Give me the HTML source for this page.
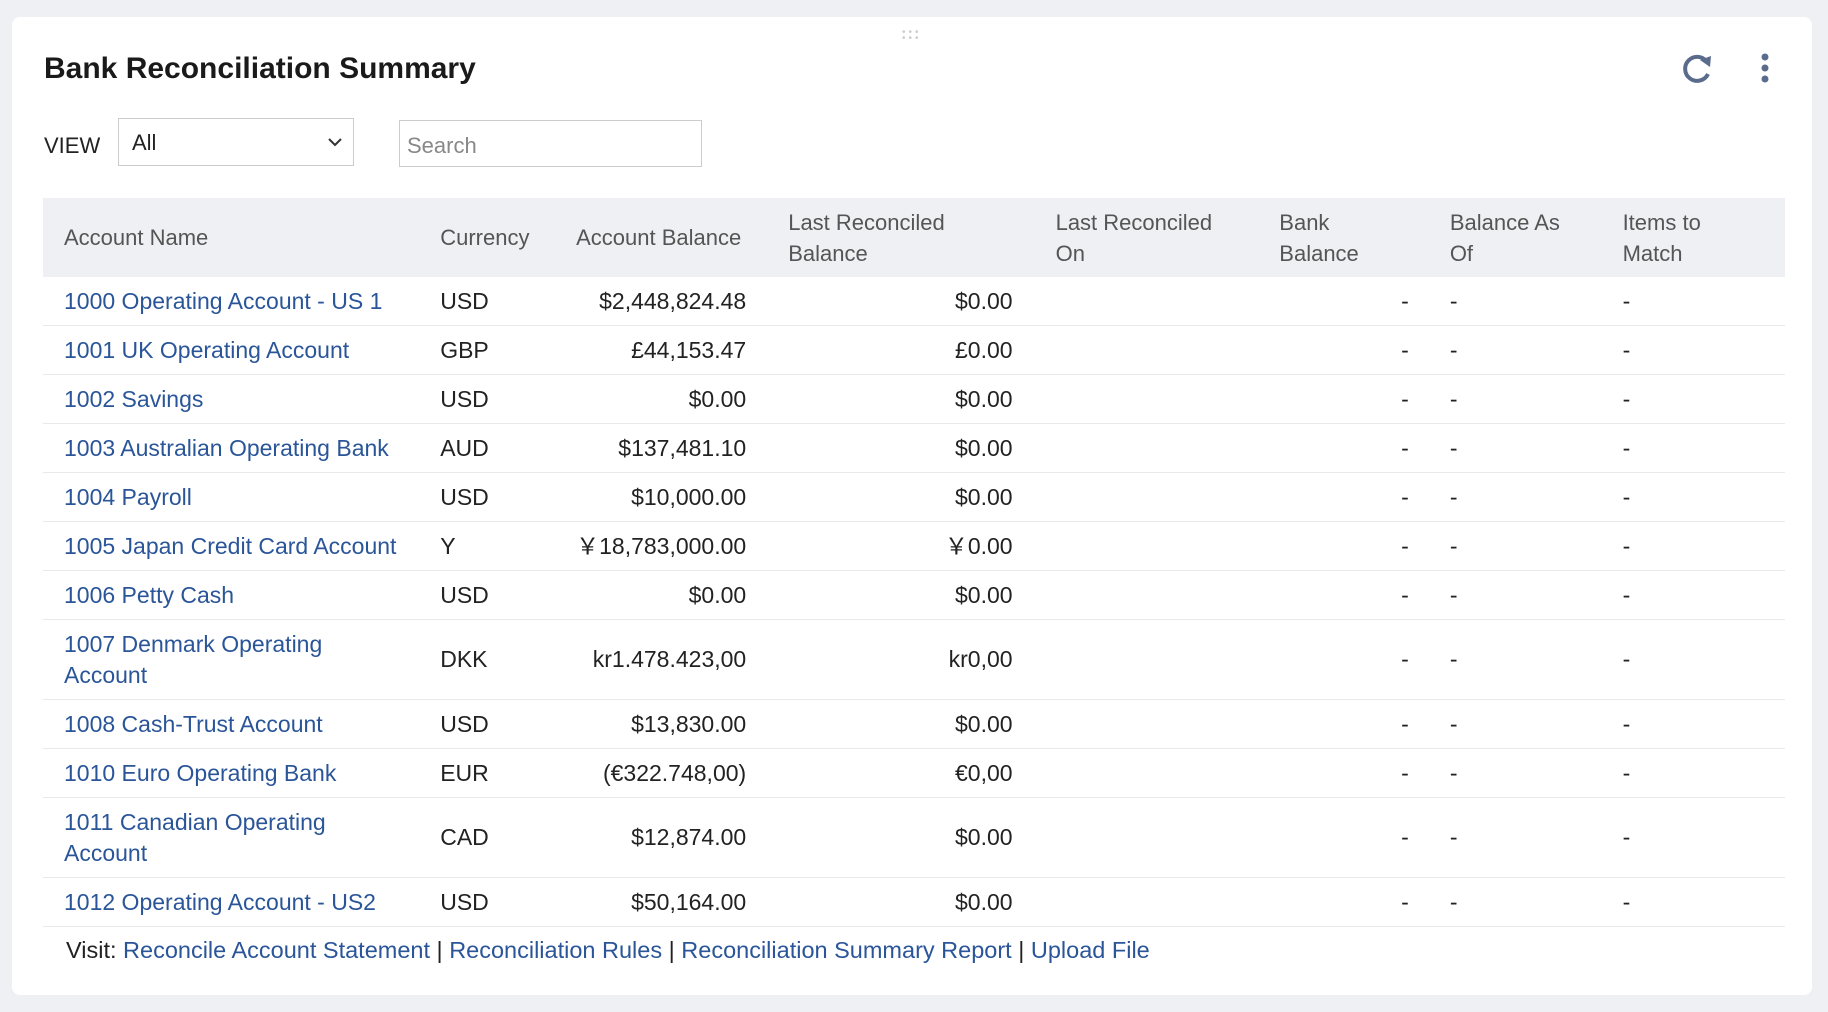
<!DOCTYPE html>
<html><head><meta charset="utf-8"><style>
body{margin:0;width:1828px;height:1012px;background:#eef0f4;font-family:"Liberation Sans",sans-serif;overflow:hidden;position:relative}
.card{position:absolute;left:12px;top:17px;width:1800px;height:978px;background:#fff;border-radius:8px}
.t{position:absolute;left:44px;top:52px;font-size:30px;font-weight:bold;color:#1a1a1a;letter-spacing:0px}
.view{position:absolute;left:44px;top:133px;font-size:22px;color:#222}
.sel{position:absolute;left:118px;top:118px;width:236px;height:48px;border:1px solid #ccc;box-sizing:border-box;font-size:22px;padding:11px 13px;color:#222}
.srch{position:absolute;left:399px;top:120px;width:303px;height:47px;border:1px solid #ccc;box-sizing:border-box;font-size:22px;padding:12px 7px;color:#888}
table{position:absolute;left:43px;top:198px;width:1742px;border-collapse:collapse;font-size:23px;color:#222}
th{background:#eff0f4;font-weight:normal;color:#555;text-align:left;height:79px;line-height:31px;padding:0 18px;vertical-align:middle;font-size:22px;white-space:nowrap}
td{border-bottom:1px solid #e8e9ec;height:48px;line-height:31px;padding:0 18px}
td.tall{height:79px}
a{color:#2a5598;text-decoration:none}
.r{text-align:right}
.foot{position:absolute;left:66px;top:937px;font-size:23.5px;color:#222}
</style></head><body>
<div class="card"></div>
<div style="position:absolute;left:902px;top:30px;color:#ccc;font-size:10px;letter-spacing:3px;line-height:6px">•••<br>•••</div>
<div class="t">Bank Reconciliation Summary</div>
<svg style="position:absolute;left:1680px;top:52px" width="34" height="34" viewBox="0 0 34 34"><path d="M27 10 A12 12 0 1 0 28 22" fill="none" stroke="#5a6b8c" stroke-width="4"/><polygon points="20,8 31,4 30,15" fill="#5a6b8c"/></svg>
<svg style="position:absolute;left:1757px;top:52px" width="16" height="34"><circle cx="8" cy="5" r="3.5" fill="#5a6b8c"/><circle cx="8" cy="16" r="3.5" fill="#5a6b8c"/><circle cx="8" cy="27" r="3.5" fill="#5a6b8c"/></svg>
<div class="view">VIEW</div>
<div class="sel">All<svg style="position:absolute;right:10px;top:18px" width="16" height="10"><path d="M2 2 L8 8 L14 2" fill="none" stroke="#333" stroke-width="2"/></svg></div>
<div class="srch">Search</div>
<table>
<colgroup><col style="width:381px"><col style="width:136px"><col style="width:202px"><col style="width:267px"><col style="width:231px"><col style="width:166px"><col style="width:178px"><col style="width:181px"></colgroup>
<tr><th style="padding-left:21px">Account Name</th><th>Currency</th><th style="text-align:right;padding-right:23px">Account Balance</th><th style="padding-left:24px">Last Reconciled<br>Balance</th><th style="padding-left:25px">Last Reconciled<br>On</th><th>Bank<br>Balance</th><th style="padding-left:23px">Balance As<br>Of</th><th>Items to<br>Match</th></tr>
<tr><td style="padding-left:21px"><a>1000 Operating Account - US 1</a></td><td>USD</td><td class="r">$2,448,824.48</td><td class="r">$0.00</td><td></td><td class="r">-</td><td style="padding-left:23px">-</td><td>-</td></tr>
<tr><td style="padding-left:21px"><a>1001 UK Operating Account</a></td><td>GBP</td><td class="r">£44,153.47</td><td class="r">£0.00</td><td></td><td class="r">-</td><td style="padding-left:23px">-</td><td>-</td></tr>
<tr><td style="padding-left:21px"><a>1002 Savings</a></td><td>USD</td><td class="r">$0.00</td><td class="r">$0.00</td><td></td><td class="r">-</td><td style="padding-left:23px">-</td><td>-</td></tr>
<tr><td style="padding-left:21px"><a>1003 Australian Operating Bank</a></td><td>AUD</td><td class="r">$137,481.10</td><td class="r">$0.00</td><td></td><td class="r">-</td><td style="padding-left:23px">-</td><td>-</td></tr>
<tr><td style="padding-left:21px"><a>1004 Payroll</a></td><td>USD</td><td class="r">$10,000.00</td><td class="r">$0.00</td><td></td><td class="r">-</td><td style="padding-left:23px">-</td><td>-</td></tr>
<tr><td style="padding-left:21px"><a>1005 Japan Credit Card Account</a></td><td>Y</td><td class="r">￥18,783,000.00</td><td class="r">￥0.00</td><td></td><td class="r">-</td><td style="padding-left:23px">-</td><td>-</td></tr>
<tr><td style="padding-left:21px"><a>1006 Petty Cash</a></td><td>USD</td><td class="r">$0.00</td><td class="r">$0.00</td><td></td><td class="r">-</td><td style="padding-left:23px">-</td><td>-</td></tr>
<tr><td class="tall" style="padding-left:21px"><a>1007 Denmark Operating<br>Account</a></td><td>DKK</td><td class="r">kr1.478.423,00</td><td class="r">kr0,00</td><td></td><td class="r">-</td><td style="padding-left:23px">-</td><td>-</td></tr>
<tr><td style="padding-left:21px"><a>1008 Cash-Trust Account</a></td><td>USD</td><td class="r">$13,830.00</td><td class="r">$0.00</td><td></td><td class="r">-</td><td style="padding-left:23px">-</td><td>-</td></tr>
<tr><td style="padding-left:21px"><a>1010 Euro Operating Bank</a></td><td>EUR</td><td class="r">(€322.748,00)</td><td class="r">€0,00</td><td></td><td class="r">-</td><td style="padding-left:23px">-</td><td>-</td></tr>
<tr><td class="tall" style="padding-left:21px"><a>1011 Canadian Operating<br>Account</a></td><td>CAD</td><td class="r">$12,874.00</td><td class="r">$0.00</td><td></td><td class="r">-</td><td style="padding-left:23px">-</td><td>-</td></tr>
<tr><td style="padding-left:21px"><a>1012 Operating Account - US2</a></td><td>USD</td><td class="r">$50,164.00</td><td class="r">$0.00</td><td></td><td class="r">-</td><td style="padding-left:23px">-</td><td>-</td></tr>
</table>
<div class="foot">Visit: <a>Reconcile Account Statement</a> | <a>Reconciliation Rules</a> | <a>Reconciliation Summary Report</a> | <a>Upload File</a></div>
</body></html>
